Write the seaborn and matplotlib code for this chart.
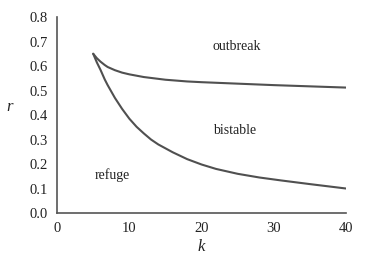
import matplotlib
matplotlib.use("Agg")
import matplotlib.pyplot as plt
import seaborn as sns
import pandas as pd

k_upper = [5, 5.5, 6, 6.6, 7, 8, 9, 10, 12, 15, 18, 20, 25, 30, 35, 40]
r_upper = [0.65, 0.632, 0.618, 0.604, 0.596, 0.583, 0.573, 0.566, 0.555, 0.544, 0.537, 0.534, 0.528, 0.522, 0.517, 0.512]
k_lower = [5, 5.5, 6, 6.6, 7, 8, 9, 10, 11, 12, 13, 14, 16, 18, 20, 22, 25, 28, 31, 35, 40]
r_lower = [0.65, 0.615, 0.585, 0.545, 0.522, 0.47, 0.425, 0.385, 0.352, 0.325, 0.3, 0.28, 0.248, 0.22, 0.198, 0.18, 0.16, 0.145, 0.133, 0.118, 0.10]
region_labels = ["outbreak", "bistable", "refuge"]
region_k = [24.8, 24.5, 7.6]
region_r = [0.68, 0.335, 0.155]
x_ticks = [0, 10, 20, 30, 40]
y_ticks = [0.0, 0.1, 0.2, 0.3, 0.4, 0.5, 0.6, 0.7, 0.8]

df = pd.concat([
    pd.DataFrame({"k": k_upper, "r": r_upper, "curve": "upper"}),
    pd.DataFrame({"k": k_lower, "r": r_lower, "curve": "lower"}),
])

sns.set_style("white")
plt.rcParams["font.family"] = ["Liberation Serif", "DejaVu Serif"]

fig = plt.figure(figsize=(3.73, 2.70), dpi=100)
ax = fig.add_axes([0.153, 0.211, 0.775, 0.726])
sns.lineplot(data=df, x="k", y="r", units="curve", estimator=None, color="#505050",
             linewidth=1.5, ax=ax, sort=False)

for t, kx, ry in zip(region_labels, region_k, region_r):
    ax.text(kx, ry, t, ha="center", va="center", fontsize=10, color="#222222")

ax.set_xlim(0, 40)
ax.set_ylim(0, 0.8)
ax.set_xticks(x_ticks)
ax.set_yticks(y_ticks)
ax.set_yticklabels([f"{v:.1f}" for v in y_ticks])
ax.tick_params(axis="both", labelsize=10.5, colors="#333333", length=3, width=0.8, direction="out")
ax.tick_params(axis="both", labelcolor="#222222")
for s in ["top", "right"]:
    ax.spines[s].set_visible(False)
for s in ["left", "bottom"]:
    ax.spines[s].set_color("#555555")
    ax.spines[s].set_linewidth(1.2)
ax.set_xlabel("k", fontsize=12, style="italic", color="#222222", labelpad=3)
ax.set_ylabel("r", fontsize=12, style="italic", color="#222222", rotation=0, labelpad=0,
              va="center", ha="center")
ax.yaxis.set_label_coords(-0.165, 0.54)

fig.savefig("out.png", dpi=100)
